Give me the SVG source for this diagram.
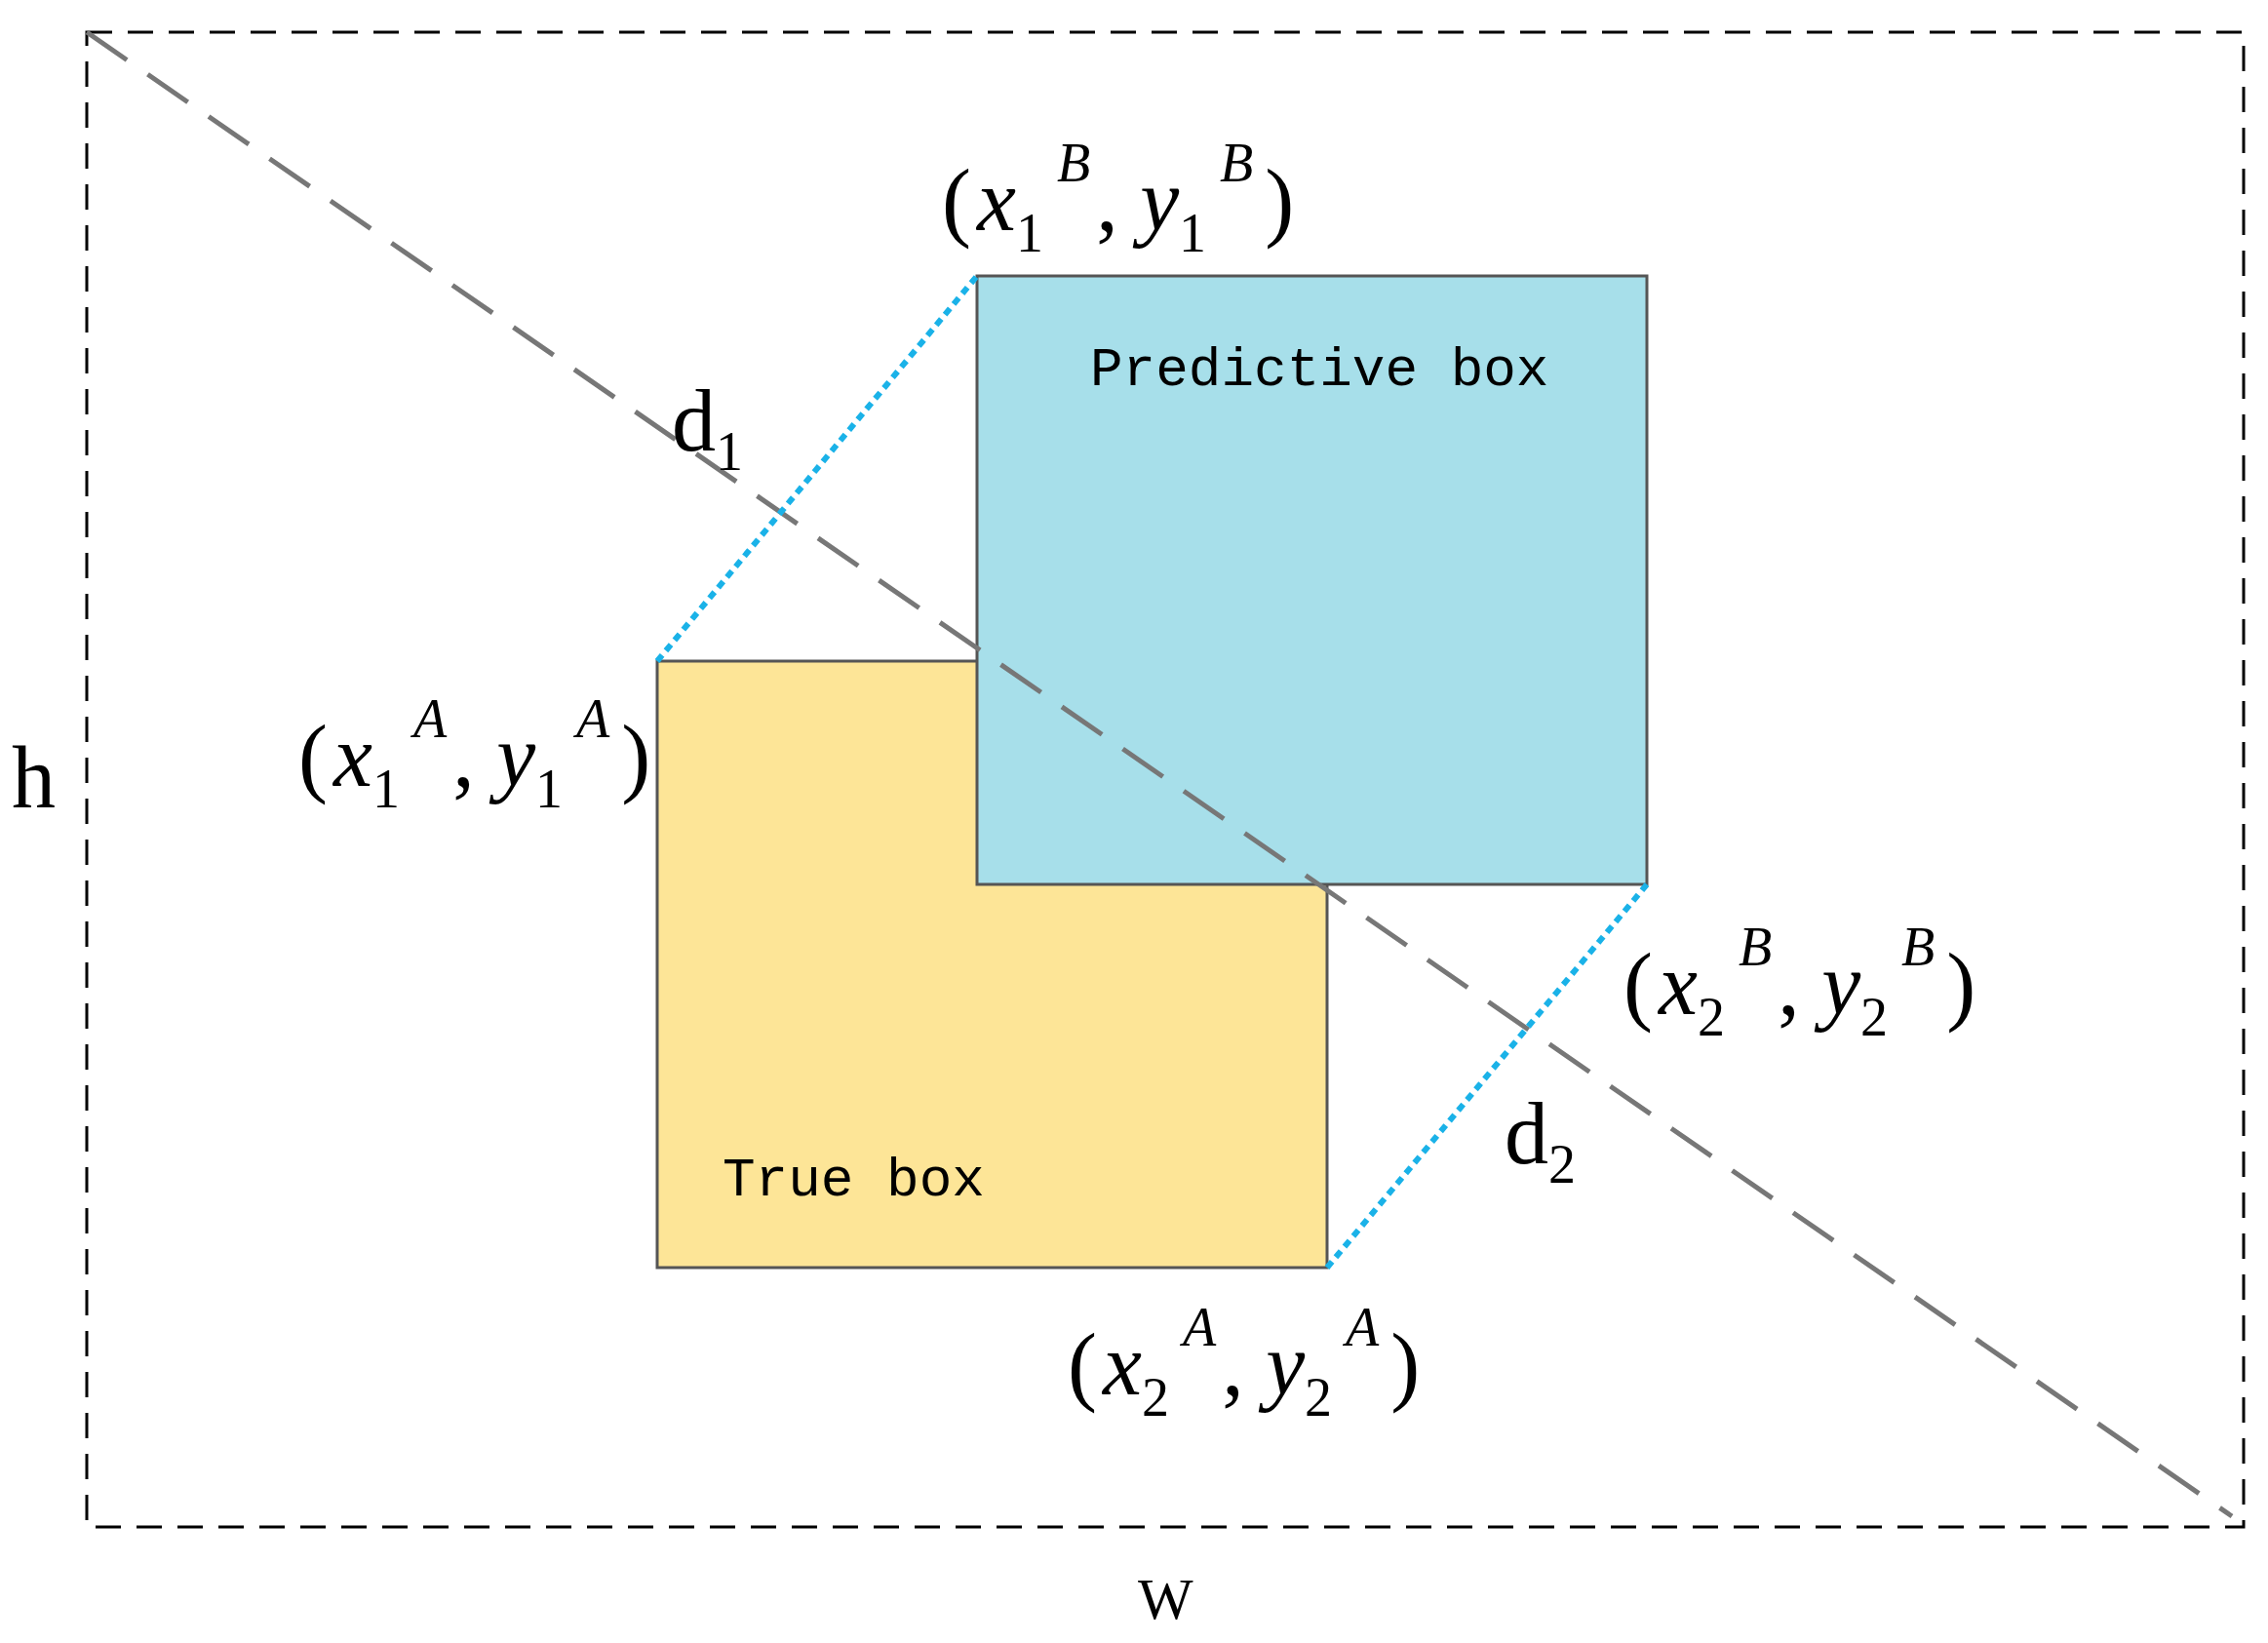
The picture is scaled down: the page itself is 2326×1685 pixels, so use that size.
<svg xmlns="http://www.w3.org/2000/svg" width="2326" height="1685" viewBox="0 0 2326 1685">
<style>
.m{font-family:"Liberation Serif",serif;font-size:90px;fill:#000}
.i{font-style:italic}
.s{font-size:56px}
.mono{font-family:"Liberation Mono","DejaVu Sans Mono",monospace;font-size:56px;fill:#000}
</style>
<rect width="2326" height="1685" fill="#fff"/>
<g id="frame"><rect x="89" y="33" width="2212" height="1533" fill="none" stroke="#000" stroke-width="3" stroke-dasharray="26,16"/></g>
<g id="truebox"><rect x="674" y="678" width="687" height="622" fill="#fde597" stroke="#555" stroke-width="3"/>
<text class="mono" x="741" y="1226">True box</text></g>
<g id="predbox"><rect x="1002" y="283" width="687" height="624" fill="#a7dfea" stroke="#555" stroke-width="3"/>
<text class="mono" x="1118" y="395">Predictive box</text></g>
<g id="connectors">
<line x1="89" y1="33" x2="2289" y2="1555" stroke="#777" stroke-width="5" stroke-dasharray="50,26"/>
<line x1="674" y1="678" x2="1002" y2="283" stroke="#1ab2e8" stroke-width="6" stroke-dasharray="8,6"/>
<line x1="1361" y1="1300" x2="1689" y2="907" stroke="#1ab2e8" stroke-width="6" stroke-dasharray="8,6"/>
</g>
<g id="labels">
<text class="m" x="966" y="236">(<tspan class="i" dx="6">x</tspan><tspan class="s" dy="22">1</tspan><tspan class="s i" dx="14" dy="-72">B</tspan><tspan dx="6" dy="50">, </tspan><tspan class="i">y</tspan><tspan class="s" dy="22">1</tspan><tspan class="s i" dx="14" dy="-72">B</tspan><tspan dx="12" dy="50">)</tspan></text>
<text class="m" x="306" y="806">(<tspan class="i" dx="6">x</tspan><tspan class="s" dy="22">1</tspan><tspan class="s i" dx="14" dy="-72">A</tspan><tspan dx="6" dy="50">, </tspan><tspan class="i">y</tspan><tspan class="s" dy="22">1</tspan><tspan class="s i" dx="14" dy="-72">A</tspan><tspan dx="12" dy="50">)</tspan></text>
<text class="m" x="1665" y="1040">(<tspan class="i" dx="6">x</tspan><tspan class="s" dy="22">2</tspan><tspan class="s i" dx="14" dy="-72">B</tspan><tspan dx="6" dy="50">, </tspan><tspan class="i">y</tspan><tspan class="s" dy="22">2</tspan><tspan class="s i" dx="14" dy="-72">B</tspan><tspan dx="12" dy="50">)</tspan></text>
<text class="m" x="1095" y="1430">(<tspan class="i" dx="6">x</tspan><tspan class="s" dy="22">2</tspan><tspan class="s i" dx="14" dy="-72">A</tspan><tspan dx="6" dy="50">, </tspan><tspan class="i">y</tspan><tspan class="s" dy="22">2</tspan><tspan class="s i" dx="14" dy="-72">A</tspan><tspan dx="12" dy="50">)</tspan></text>
<text class="m" x="689" y="462">d<tspan class="s" dy="20">1</tspan></text>
<text class="m" x="1543" y="1193">d<tspan class="s" dy="20">2</tspan></text>
<text class="m" x="12" y="828" style="font-size:90px">h</text>
<text class="m" x="1167" y="1660" style="font-size:60px">W</text>
</g>
</svg>
